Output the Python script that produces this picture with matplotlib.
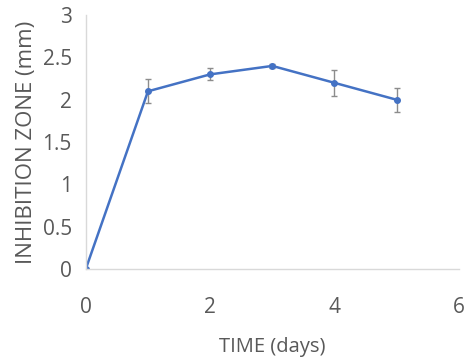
import matplotlib
matplotlib.use("Agg")
import matplotlib.pyplot as plt

days = [0, 1, 2, 3, 4, 5]
zone = [0, 2.1, 2.3, 2.4, 2.2, 2.0]
err = [0, 0.14, 0.07, 0.02, 0.15, 0.14]

plt.rcParams["font.family"] = ["Open Sans", "DejaVu Sans"]
TXT = "#595959"

fig = plt.figure(figsize=(4.74, 3.61), dpi=100)
ax = fig.add_axes([0.181, 0.255, 0.787, 0.703])

ax.errorbar(days, zone, yerr=err, color="#4472C4", lw=1.8, marker="o", ms=4,
            ecolor="#8c8c8c", elinewidth=1, capsize=2.5, capthick=1)

ax.set_xlim(0, 6)
ax.set_ylim(0, 3)
ax.set_xticks([0, 2, 4, 6])
ax.set_yticks([0, 0.5, 1, 1.5, 2, 2.5, 3])
ax.set_yticklabels(["0", "0.5", "1", "1.5", "2", "2.5", "3"])

for s in ["top", "right"]:
    ax.spines[s].set_visible(False)
for s in ["left", "bottom"]:
    ax.spines[s].set_color("#d9d9d9")
    ax.spines[s].set_linewidth(1)
ax.tick_params(length=0, labelsize=15, colors=TXT, pad=10)
ax.tick_params(axis="x", pad=20)

ax.set_xlabel("TIME (days)", fontsize=14.5, color=TXT, labelpad=14)
ax.set_ylabel("INHIBITION ZONE (mm)", fontsize=16, color=TXT, labelpad=4)

fig.savefig("out.png", dpi=100)
